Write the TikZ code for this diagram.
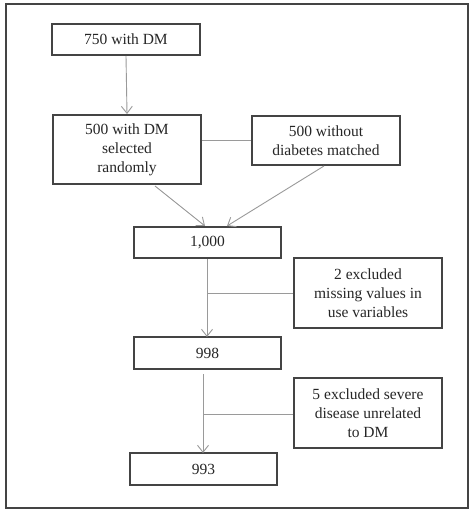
\documentclass[tikz,border=0pt]{standalone}
\usepackage{fontspec}
\setmainfont{Liberation Serif}
\usetikzlibrary{arrows.meta}
\definecolor{boxline}{HTML}{444444}
\definecolor{conn}{HTML}{9A9A9A}
\begin{document}
\begin{tikzpicture}[x=1pt,y=-1pt,
  box/.style={draw=boxline,line width=1.1pt,align=center,inner sep=0pt,
    font=\fontsize{15.5}{19}\selectfont,text=black!85},
  conn/.style={draw=conn,line width=0.9pt},
  arr/.style={conn,-{Straight Barb[length=7pt,width=11pt]}}]
\useasboundingbox (0,0) rectangle (474,518);
\fill[white] (0,0) rectangle (474,518);
\draw[boxline,line width=1.3pt] (6,4) rectangle (468,508);
\node[box,minimum width=148pt,minimum height=31pt] (a) at (126,39.5) {750 with DM};
\node[box,minimum width=148pt,minimum height=69pt] (b) at (127,149.5) {500 with DM\\selected\\randomly};
\node[box,minimum width=148pt,minimum height=49pt] (c) at (326,140.5) {500 without\\diabetes matched};
\node[box,minimum width=147pt,minimum height=31pt] (d) at (207.5,242.5) {1,000};
\node[box,minimum width=148pt,minimum height=70pt] (e) at (368,293) {2 excluded\\missing values in\\use variables};
\node[box,minimum width=147pt,minimum height=32pt] (f) at (207.5,353) {998};
\node[box,minimum width=148pt,minimum height=70pt] (g) at (368,413) {5 excluded severe\\disease unrelated\\to DM};
\node[box,minimum width=147pt,minimum height=32pt] (h) at (203.5,469) {993};
\coordinate (a1) at (126,56);
\coordinate (b0) at (127,114);
\draw[arr] (a1) -- (b0);
\draw[conn] (b.east |- 0,140) -- (c.west |- 0,140);
\coordinate (b1) at (155,186);
\coordinate (d0) at (205,226);
\coordinate (c1) at (324,166);
\coordinate (d0b) at (227,226);
\draw[arr] (b1) -- (d0);
\draw[arr] (c1) -- (d0b);
\coordinate (d1) at (207,259);
\coordinate (f0) at (207,337);
\draw[arr] (d1) -- (f0);
\coordinate (j1) at (207,293);
\draw[conn] (j1) -- (e.west |- j1);
\coordinate (f1) at (203,374);
\coordinate (h0) at (203,453);
\draw[arr] (f1) -- (h0);
\coordinate (j2) at (203,414);
\draw[conn] (j2) -- (g.west |- j2);
\end{tikzpicture}
\end{document}
